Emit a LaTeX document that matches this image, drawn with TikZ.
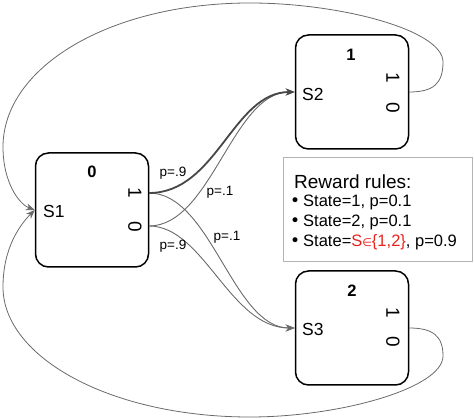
\documentclass[tikz,border=0pt]{standalone}
\usepackage{fontspec}
\setmainfont{Liberation Sans}
\newfontfamily\dejavu{DejaVu Sans}
\usetikzlibrary{arrows.meta,calc}
\definecolor{linegray}{HTML}{6A6A6A}
\definecolor{darkline}{HTML}{474747}
\definecolor{boxgray}{HTML}{B4B4B4}
\definecolor{rulered}{HTML}{E8231E}
\newcommand{\rbul}{{\dejavu\fontsize{17}{17}\selectfont •}\hspace{3pt}}
\begin{document}
\begin{tikzpicture}[x=1pt,y=-1pt,
  statebox/.style={draw=black, line width=1.5pt, rounded corners=13pt, minimum width=113pt, minimum height=114pt, inner sep=0pt},
  boxtitle/.style={font=\fontsize{16.5}{16.5}\selectfont\bfseries, inner sep=0pt},
  slabel/.style={font=\fontsize{17.5}{17.5}\selectfont, inner sep=0pt, anchor=west},
  portlabel/.style={font=\fontsize{19}{19}\selectfont, inner sep=0pt, rotate=-90},
  plabel/.style={font=\fontsize{13.5}{13.5}\selectfont, inner sep=0pt},
  trans/.style={draw=linegray, line width=0.9pt, -{Stealth[length=9pt,width=7pt]}},
  thicktrans/.style={draw=darkline, line width=1.8pt, -{Stealth[length=9pt,width=7pt]}},
  loopline/.style={draw=linegray, line width=0.8pt, -{Stealth[length=9pt,width=7pt]}},
  rtext/.style={anchor=west, inner sep=0pt, font=\fontsize{16.5}{16.5}\selectfont},
]
\useasboundingbox (0,0) rectangle (474,419);

% state boxes
\node[statebox] (b0) at (92,210) {};
\node[statebox] (b1) at (352,92) {};
\node[statebox] (b2) at (352,328) {};

% titles
\node[boxtitle] (t0) at (92,172) {0};
\node[boxtitle] (t1) at (351,55) {1};
\node[boxtitle] (t2) at (352,291) {2};

% state labels
\node[slabel] (s1) at (43,211) {S1};
\node[slabel] (s2) at (302,94) {S2};
\node[slabel] (s3) at (302,329) {S3};

% port labels
\node[portlabel] (q01) at (135,193) {1};
\node[portlabel] (q00) at (135,227) {0};
\node[portlabel] (q11) at (393,78) {1};
\node[portlabel] (q10) at (393,108) {0};
\node[portlabel] (q21) at (393,313) {1};
\node[portlabel] (q20) at (393,342) {0};

% ports
\coordinate (p01) at (149,193);
\coordinate (p00) at (149,226);
\coordinate (p11) at (409,92);
\coordinate (p21) at (409,328);

% transitions from state 0
\draw[trans] (p00) .. controls +(62,0) and +(-62,0) .. (b1.west);
\draw[trans] (p01) .. controls +(62,0) and +(-62,0) .. (b2.west);
\draw[trans] (p00) .. controls +(55,0) and +(-65,0) .. (b2.west);
\draw[thicktrans] (p01) .. controls +(68,0) and +(-62,0) .. (b1.west);

% probability labels
\node[plabel] (l1) at (173,173) {p=.9};
\node[plabel] (l2) at (220,192) {p=.1};
\node[plabel] (l3) at (227,237) {p=.1};
\node[plabel] (l4) at (173,246) {p=.9};

% loops back to S1
\coordinate (c1) at (443,62);
\coordinate (c2) at (250,3);
\coordinate (c3) at (3,147);
\draw[loopline] (p11) .. controls +(24,0) and +(0,22) .. (c1)
  .. controls +(0,-32) and +(90,0) .. (c2)
  .. controls +(-140,0) and +(0,-80) .. (c3)
  .. controls +(0,35) and +(-16,-6) .. (b0.west);
\coordinate (c4) at (443,356);
\coordinate (c5) at (250,417);
\coordinate (c6) at (3,287);
\draw[loopline] (p21) .. controls +(24,0) and +(0,-20) .. (c4)
  .. controls +(0,32) and +(90,0) .. (c5)
  .. controls +(-140,0) and +(0,70) .. (c6)
  .. controls +(0,-40) and +(-14,14) .. (b0.west);

% reward rules box
\node[draw=boxgray, line width=1pt, minimum width=189pt, minimum height=104pt, inner sep=0pt] (rbox) at (378,210) {};
\node[anchor=west, inner sep=0pt, font=\fontsize{19}{19}\selectfont] (rt) at (294,182) {Reward rules:};
\node[rtext] (r1) at (290,202) {\rbul State=1, p=0.1};
\node[rtext] (r2) at (290,222) {\rbul State=2, p=0.1};
\node[rtext] (r3) at (290,242) {\rbul State=\textcolor{rulered}{S{\dejavu\fontsize{11}{11}\selectfont ∈}\{1,2\}}, p=0.9};
\end{tikzpicture}
\end{document}
